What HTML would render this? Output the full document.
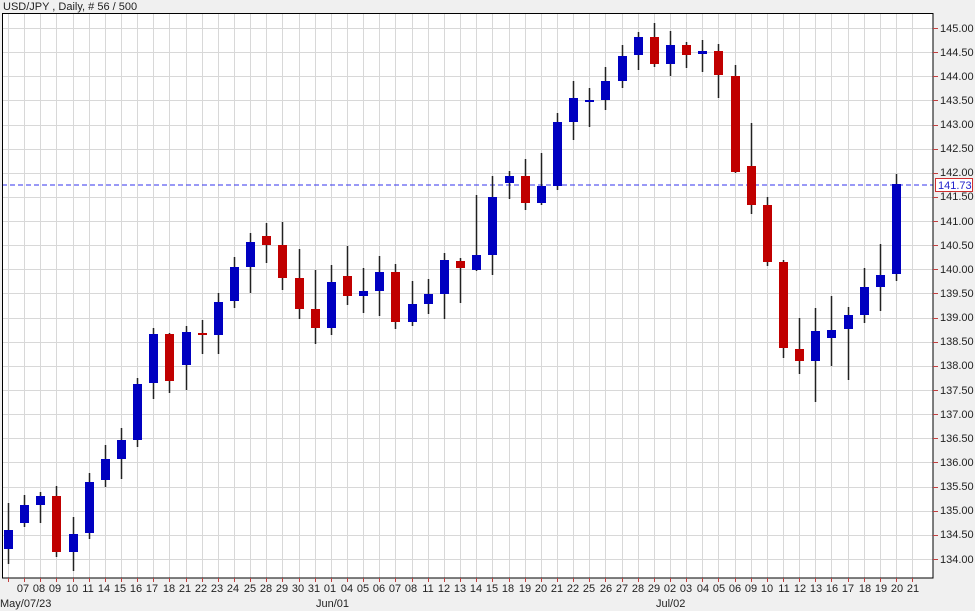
<!DOCTYPE html>
<html><head><meta charset="utf-8"><style>
html,body{margin:0;padding:0;background:#f0f0f0;}
svg{display:block;font-family:"Liberation Sans",sans-serif;}
</style></head><body>
<svg id="s" width="975" height="611" viewBox="0 0 975 611" xmlns="http://www.w3.org/2000/svg">
<rect x="0" y="0" width="975" height="611" fill="#f0f0f0"/>
<rect x="2" y="13" width="931" height="565" fill="#fff"/>
<g id="grid" stroke="#d8d8d8" stroke-width="1"></g>
<line x1="2" y1="185" x2="933" y2="185" stroke="#3333ee" stroke-width="1" stroke-dasharray="5,3"/>
<g id="c"></g>
<rect x="2.5" y="13.5" width="930.5" height="564.5" fill="none" stroke="#000" stroke-width="1"/>
<g id="ticks" stroke="#c04040" stroke-width="1"></g>
<text x="3" y="10" font-size="11" fill="#222">USD/JPY , Daily, # 56 / 500</text>
<g font-size="11" fill="#222">
<text x="940" y="32">145.00</text><text x="940" y="56">144.50</text><text x="940" y="80">144.00</text>
<text x="940" y="104">143.50</text><text x="940" y="128">143.00</text><text x="940" y="152">142.50</text>
<text x="940" y="176">142.00</text><text x="940" y="200">141.50</text><text x="940" y="225">141.00</text>
<text x="940" y="249">140.50</text><text x="940" y="273">140.00</text><text x="940" y="297">139.50</text>
<text x="940" y="321">139.00</text><text x="940" y="345">138.50</text><text x="940" y="369">138.00</text>
<text x="940" y="394">137.50</text><text x="940" y="418">137.00</text><text x="940" y="442">136.50</text>
<text x="940" y="466">136.00</text><text x="940" y="490">135.50</text><text x="940" y="514">135.00</text>
<text x="940" y="538">134.50</text><text x="940" y="563">134.00</text>
</g>
<rect x="935.5" y="178.5" width="37" height="13" fill="#fff" stroke="#d03030"/>
<text x="938" y="189" font-size="11" fill="#2222cc">141.73</text>
<g font-size="11" fill="#222" text-anchor="middle" id="xl">
<text x="23" y="592">07</text><text x="39" y="592">08</text><text x="55" y="592">09</text><text x="72" y="592">10</text><text x="88" y="592">11</text>
<text x="104" y="592">14</text><text x="120" y="592">15</text><text x="136" y="592">16</text><text x="152" y="592">17</text><text x="169" y="592">18</text>
<text x="185" y="592">21</text><text x="201" y="592">22</text><text x="217" y="592">23</text><text x="233" y="592">24</text><text x="250" y="592">25</text>
<text x="266" y="592">28</text><text x="282" y="592">29</text><text x="298" y="592">30</text><text x="314" y="592">31</text><text x="330" y="592">01</text>
<text x="347" y="592">04</text><text x="363" y="592">05</text><text x="379" y="592">06</text><text x="395" y="592">07</text><text x="411" y="592">08</text>
<text x="428" y="592">11</text><text x="444" y="592">12</text><text x="460" y="592">13</text><text x="476" y="592">14</text><text x="492" y="592">15</text>
<text x="508" y="592">18</text><text x="525" y="592">19</text><text x="541" y="592">20</text><text x="557" y="592">21</text><text x="573" y="592">22</text>
<text x="589" y="592">25</text><text x="606" y="592">26</text><text x="622" y="592">27</text><text x="638" y="592">28</text><text x="654" y="592">29</text>
<text x="670" y="592">02</text><text x="686" y="592">03</text><text x="703" y="592">04</text><text x="719" y="592">05</text><text x="735" y="592">06</text>
<text x="751" y="592">09</text><text x="767" y="592">10</text><text x="784" y="592">11</text><text x="800" y="592">12</text><text x="816" y="592">13</text>
<text x="832" y="592">16</text><text x="848" y="592">17</text><text x="865" y="592">18</text><text x="881" y="592">19</text><text x="897" y="592">20</text>
<text x="913" y="592">21</text>
</g>
<g font-size="11" fill="#222">
<text x="0" y="607">May/07/23</text><text x="316" y="607">Jun/01</text><text x="656" y="607">Jul/02</text>
</g>
</svg>
<script>
var NS="http://www.w3.org/2000/svg";
function el(p,t,a){var e=document.createElementNS(NS,t);for(var k in a)e.setAttribute(k,a[k]);p.appendChild(e);return e;}
var g=document.getElementById('grid'),tk=document.getElementById('ticks'),c=document.getElementById('c');
var sp=(896-8)/55;
for(var i=0;i<=56;i++){var x=Math.round(8+sp*i)+0.5;if(x<933){el(g,'line',{x1:x,y1:14,x2:x,y2:578});}el(tk,'line',{x1:x,y1:578,x2:x,y2:582});}
for(var k=0;k<=22;k++){var y=Math.round(28+k*24.136)+0.5;el(g,'line',{x1:3,y1:y,x2:933,y2:y});el(tk,'line',{x1:933,y1:y,x2:938,y2:y});}
var d=[[503,530,549,564,'B'],[495,505,523,527,'B'],[492,496,505,523,'B'],[486,496,552,557,'R'],[517,534,552,571,'B'],
[473,482,533,539,'B'],[445,459,480,487,'B'],[428,440,459,479,'B'],[378,384,440,447,'B'],[328,334,383,399,'B'],
[333,334,381,393,'R'],[326,332,365,390,'B'],[320,333,335,354,'R'],[293,302,335,354,'B'],[257,267,301,308,'B'],
[233,242,267,293,'B'],[223,236,245,263,'R'],[222,245,278,290,'R'],[249,278,309,319,'R'],[270,309,328,344,'R'],
[265,282,328,335,'B'],[246,276,296,305,'R'],[268,291,296,313,'B'],[256,272,291,316,'B'],[264,272,322,329,'R'],
[281,304,322,326,'B'],[279,294,304,314,'B'],[253,260,294,319,'B'],[258,261,268,303,'R'],[195,255,270,271,'B'],
[176,197,255,275,'B'],[171,176,183,199,'B'],[159,176,203,210,'R'],[153,186,203,205,'B'],[113,122,186,190,'B'],
[81,98,122,140,'B'],[88,100,101,127,'B'],[67,81,100,110,'B'],[45,56,81,88,'B'],[32,37,55,70,'B'],
[23,37,64,67,'R'],[31,45,64,76,'B'],[42,45,55,68,'R'],[40,51,54,72,'B'],[44,51,75,98,'R'],
[65,76,172,173,'R'],[123,166,205,214,'R'],[197,205,262,266,'R'],[260,262,348,358,'R'],[318,349,361,374,'R'],
[308,331,361,402,'B'],[296,330,338,366,'B'],[307,315,329,380,'B'],[268,287,315,323,'B'],[244,275,287,311,'B'],[174,184,274,281,'B']];
d.forEach(function(v,i){var x=Math.round(8+sp*i);
el(c,'line',{x1:x+0.5,y1:v[0],x2:x+0.5,y2:v[3],stroke:'#222','stroke-width':1.5});
var col=v[4]=='B'?'#0000c0':'#c00000';
el(c,'rect',{x:x-4,y:v[1],width:9,height:Math.max(2,v[2]-v[1]),fill:col});});
</script>
</body></html>
